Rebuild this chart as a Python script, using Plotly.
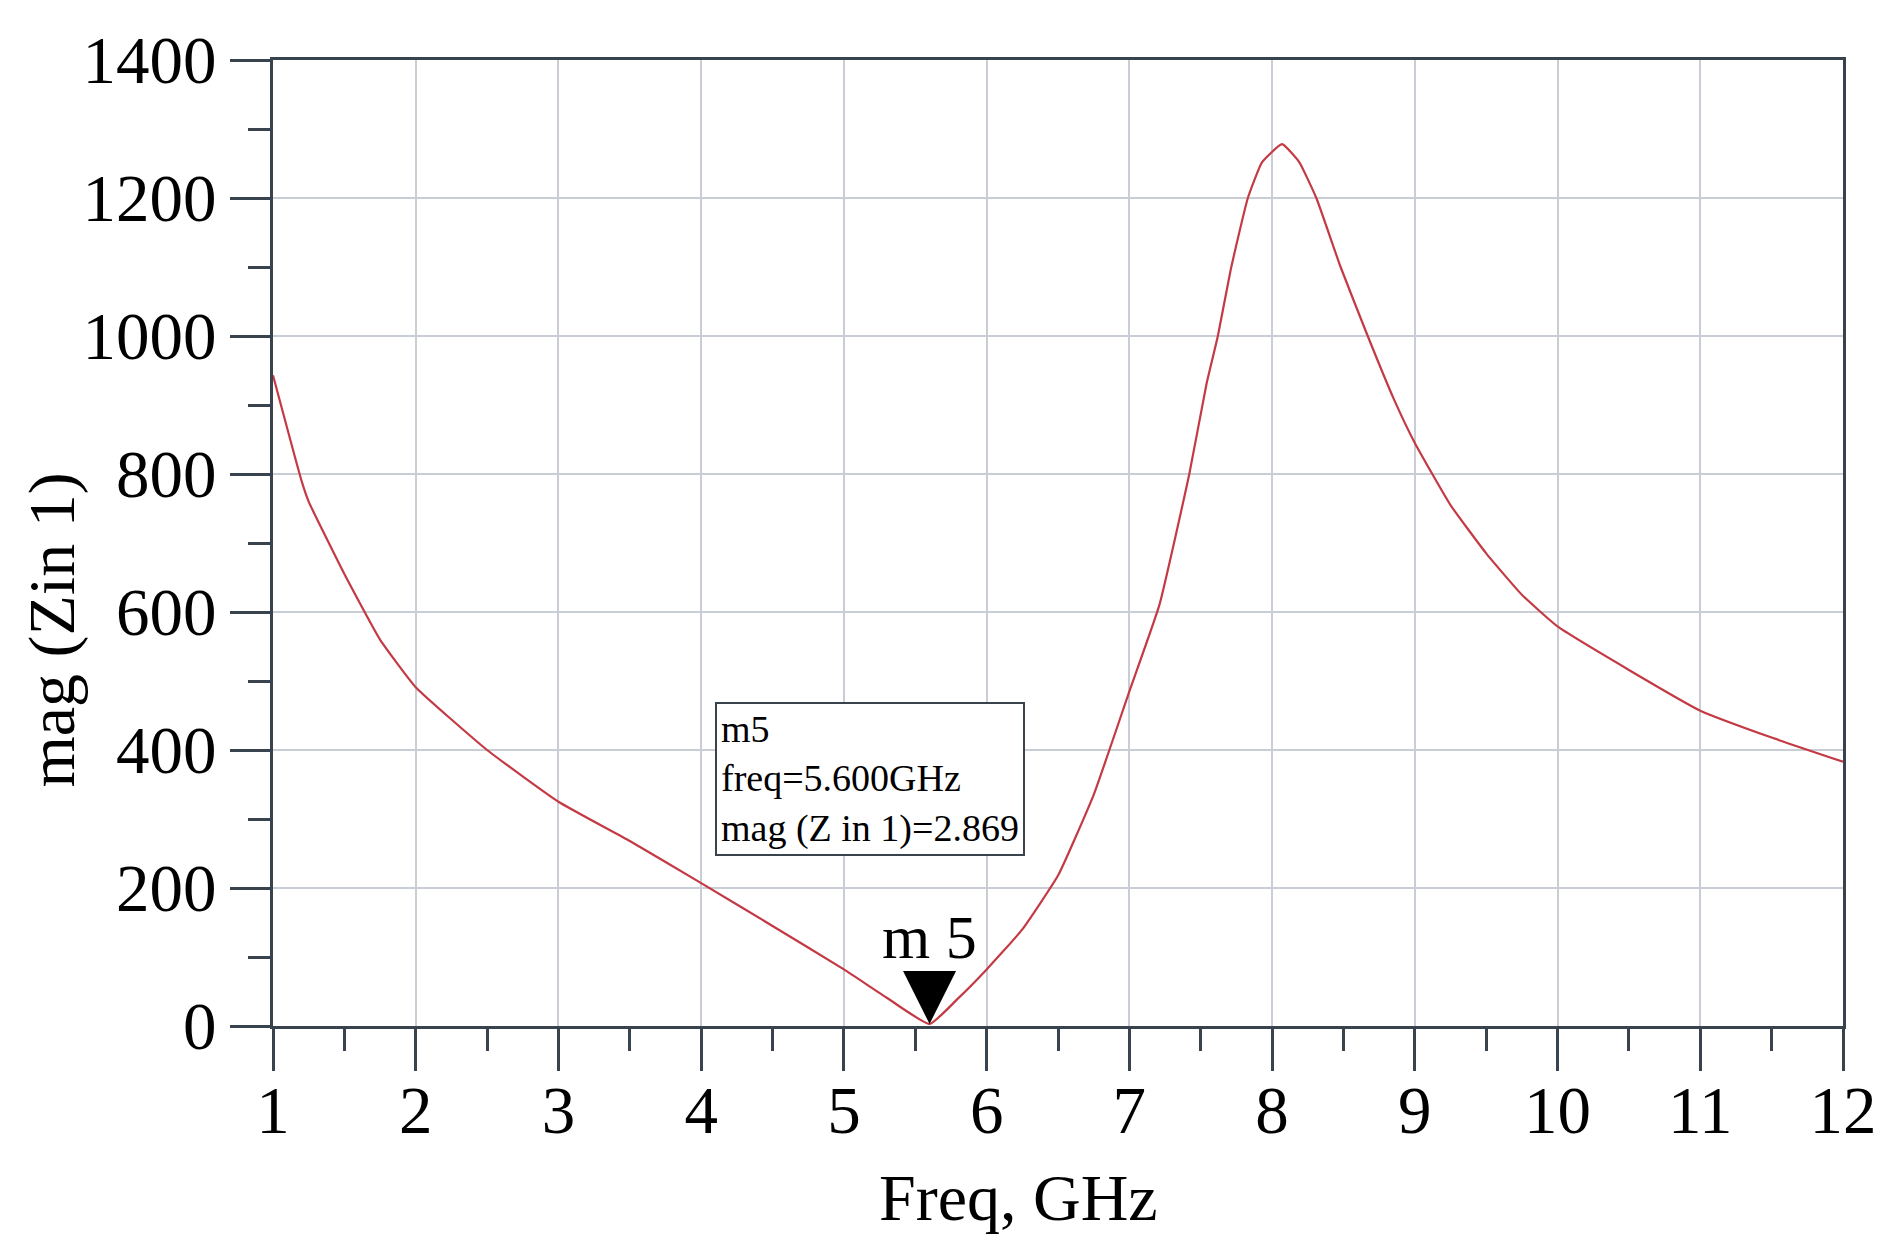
import plotly.graph_objects as go

# frequency sweep (GHz) and |Zin1|
FREQ = [1.0, 1.2, 1.25, 1.5, 1.75, 2.0, 2.5, 3.0, 3.5, 4.0, 4.5, 5.0, 5.3, 5.6,
        5.8, 6.0, 6.25, 6.5, 6.75, 7.0, 7.21, 7.42, 7.54, 7.62, 7.71, 7.83,
        7.93, 8.07, 8.19, 8.31, 8.48, 8.67, 8.85, 9.0, 9.25, 9.5, 9.75, 10.0,
        10.5, 11.0, 11.5, 12.0]
MAG = [943, 790, 760, 655, 560, 491, 400, 325, 268, 207, 145, 82, 41, 2.869,
       40, 82, 140, 218, 335, 485, 610, 800, 930, 1000, 1096, 1200,
       1252, 1278, 1252, 1200, 1100, 1000, 910, 845, 755, 685, 625, 579,
       516, 457, 418, 383]

MARKER_NAME = "m5"
MARKER_FREQ = 5.6
MARKER_MAG = 2.869

FONT = "Liberation Serif"
AXIS_COLOR = "#38434e"
GRID_COLOR = "#c9cdd5"
LINE_COLOR = "#c43a44"

fig = go.Figure()
fig.add_trace(go.Scatter(
    x=FREQ, y=MAG, mode="lines", line_shape="spline",
    line=dict(color=LINE_COLOR, width=2.2, smoothing=0.4),
    showlegend=False,
))

# marker name, the arrowhead is the black triangle sitting on the point
fig.add_annotation(
    x=MARKER_FREQ, y=MARKER_MAG, text="m 5",
    showarrow=True, arrowhead=2, arrowsize=5.3, arrowwidth=2,
    arrowcolor="black", standoff=0, ax=0, ay=-87,
    font=dict(family=FONT, size=62, color="black"),
)
# readout box
fig.add_annotation(
    x=4.10, y=470, xref="x", yref="y",
    text=(f"{MARKER_NAME}<br>freq={MARKER_FREQ:.3f}GHz"
          f"<br>mag (Z in 1)={MARKER_MAG:.3f}"),
    showarrow=False, xanchor="left", yanchor="top", align="left",
    font=dict(family=FONT, size=38, color="black"),
    bgcolor="white", bordercolor=AXIS_COLOR, borderwidth=2, borderpad=4,
)

# axis titles
fig.add_annotation(
    x=0.475, y=-0.178, xref="paper", yref="paper", text="Freq, GHz",
    showarrow=False, xanchor="center", yanchor="middle",
    font=dict(family=FONT, size=66, color="black"),
)
fig.add_annotation(
    x=-0.141, y=0.41, xref="paper", yref="paper", text="mag (Zin 1)",
    textangle=-90, showarrow=False, xanchor="center", yanchor="middle",
    font=dict(family=FONT, size=66, color="black"),
)

fig.update_xaxes(
    range=[1, 12], tickvals=list(range(1, 13)),
    showline=True, mirror=True, linecolor=AXIS_COLOR, linewidth=3,
    showgrid=True, gridcolor=GRID_COLOR, gridwidth=2, zeroline=False,
    ticks="outside", ticklen=42, tickwidth=3, tickcolor=AXIS_COLOR,
    minor=dict(dtick=0.5, ticks="outside", ticklen=22, tickwidth=3,
               tickcolor=AXIS_COLOR, showgrid=False),
    tickfont=dict(family=FONT, size=67, color="black"),
    ticklabelstandoff=-18,
)
fig.update_yaxes(
    range=[0, 1400], dtick=200,
    showline=True, mirror=True, linecolor=AXIS_COLOR, linewidth=3,
    showgrid=True, gridcolor=GRID_COLOR, gridwidth=2, zeroline=False,
    ticks="outside", ticklen=40, tickwidth=3, tickcolor=AXIS_COLOR,
    minor=dict(dtick=100, ticks="outside", ticklen=22, tickwidth=3,
               tickcolor=AXIS_COLOR, showgrid=False),
    tickfont=dict(family=FONT, size=67, color="black"),
)

fig.update_layout(
    width=1881, height=1240,
    margin=dict(l=265, r=36, t=52, b=222),
    paper_bgcolor="white", plot_bgcolor="white",
)

fig.write_html("out.html")
